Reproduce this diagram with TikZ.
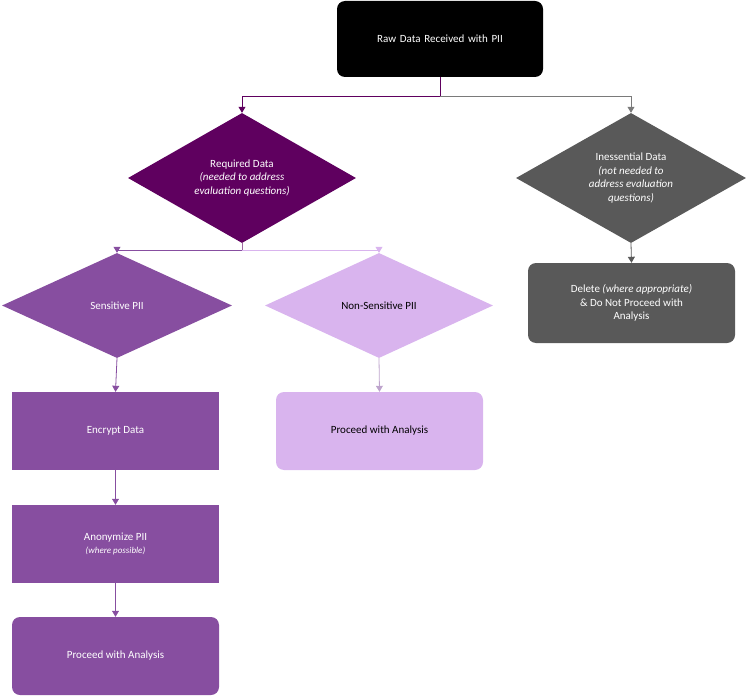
\documentclass[tikz,border=0pt]{standalone}
\usepackage{fontspec}
\setmainfont{Carlito}
\usetikzlibrary{shapes.geometric,arrows.meta}
\definecolor{dpur}{HTML}{5F005F}
\definecolor{mpur}{HTML}{874EA0}
\definecolor{lpur}{HTML}{D9B4EE}
\definecolor{dgry}{HTML}{595959}
\begin{document}
\begin{tikzpicture}[x=1pt,y=-1pt,
  txt/.style={font=\fontsize{11}{13.5}\selectfont, align=center},
  dia/.style={diamond, txt, inner sep=0pt, minimum width=#1, minimum height=130pt, aspect=1.75},
  box/.style={txt, minimum width=207pt, minimum height=78pt, inner sep=2pt},
  arr/.style={-{Triangle[width=7pt,length=6pt]}, line width=0.8pt}]
\useasboundingbox (0,0) rectangle (750,698);
\node[box, fill=black, text=white, rounded corners=8pt, minimum height=76pt, minimum width=206pt, text width=170pt] (raw) at (440,39) {Raw Data Received with PII};
\node[dia=228pt, fill=dpur, text=white, aspect=1.75] (req) at (242,178) {Required Data\\\textit{(needed to address}\\\textit{evaluation questions)}};
\node[dia=230pt, fill=dgry, text=white] (ine) at (631,178) {Inessential Data\\\textit{(not needed to}\\\textit{address evaluation}\\\textit{questions)}};
\node[box, fill=dgry, text=white, rounded corners=8pt, minimum height=80pt] (del) at (631.5,303) {Delete \textit{(where appropriate)}\\\& Do Not Proceed with\\Analysis};
\node[diamond, txt, fill=mpur, text=white, minimum width=230pt, minimum height=105pt, aspect=2.2, inner sep=0pt] (sen) at (117,305.5) {Sensitive PII};
\node[diamond, txt, fill=lpur, text=black, minimum width=228pt, minimum height=105pt, aspect=2.2, inner sep=0pt] (non) at (379,305.5) {Non-Sensitive PII};
\node[box, fill=mpur, text=white] (enc) at (115.5,431) {Encrypt Data};
\node[box, fill=mpur, text=white] (ano) at (115.5,544) {Anonymize PII\\\textit{\small(where possible)}};
\node[box, fill=mpur, text=white, rounded corners=8pt] (pro1) at (115.5,656) {Proceed with Analysis};
\node[box, fill=lpur, text=black, rounded corners=8pt] (pro2) at (379.5,431) {Proceed with Analysis};
\coordinate (j1) at (440,96);
\coordinate (j2) at (242,250);
\draw[dpur, line width=0.8pt] (raw.south) -- (j1);
\draw[arr, dpur] (j1) -| (req.north);
\draw[arr, dgry!80] (j1) -| (ine.north);
\draw[arr, dgry] (ine.south) -- (del.north);
\draw[dpur!60, line width=0.8pt] (req.south) -- (j2);
\draw[arr, mpur] (j2) -| (sen.north);
\draw[arr, lpur] (j2) -| (non.north);
\draw[arr, mpur] (sen.south) -- (enc.north);
\draw[arr, mpur] (enc.south) -- (ano.north);
\draw[arr, mpur] (ano.south) -- (pro1.north);
\draw[arr, lpur!70!gray] (non.south) -- (pro2.north);
\end{tikzpicture}
\end{document}
